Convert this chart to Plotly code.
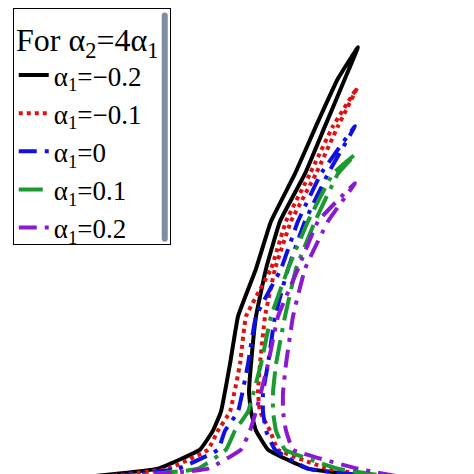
import plotly.graph_objects as go

# each curve runs along the left branch up to the peak, then back down the right branch
names = ["α<sub>1</sub>=−0.2", "α<sub>1</sub>=−0.1", "α<sub>1</sub>=0", "α<sub>1</sub>=0.1", "α<sub>1</sub>=0.2"]
colors = ["black", "#e01010", "#1010e0", "#1a9a30", "#8a1ad0"]
dashes = ["solid", "dot", "18px,8px,4px,8px", "24px,8px,24px,8px,4px,8px", "18px,8px,4px,8px"]

x_black = [65, 150, 192, 205, 213, 222, 230, 248, 263, 287, 308, 330, 350,
           337, 317, 297, 272, 258, 248, 243, 241, 243, 248, 260, 300, 380]
y_black = [470, 460, 440, 420, 400, 350, 300, 250, 200, 150, 100, 50, 17,
           50, 100, 150, 200, 250, 300, 350, 380, 400, 420, 440, 460, 470]

x_red = [65, 160, 200, 210, 222, 232, 238, 263, 278, 302, 325, 349,
         330, 308, 283, 267, 257, 252, 250, 252, 262, 270, 320, 400]
y_red = [472, 460, 440, 420, 400, 350, 300, 250, 200, 150, 100, 60,
         100, 150, 200, 250, 300, 350, 380, 400, 420, 440, 460, 472]

x_blue = [70, 170, 210, 217, 230, 240, 248, 273, 290, 313, 347,
          320, 297, 280, 267, 260, 255, 255, 258, 267, 300, 415]
y_blue = [472, 460, 440, 420, 400, 350, 300, 250, 200, 150, 100,
          150, 200, 250, 300, 350, 380, 400, 420, 440, 460, 473]

x_green = [70, 190, 218, 227, 240, 253, 263, 280, 300, 325, 347,
           330, 307, 288, 277, 268, 265, 265, 268, 277, 330, 415]
y_green = [472, 460, 440, 420, 400, 350, 300, 250, 200, 150, 130,
           150, 200, 250, 300, 350, 380, 400, 420, 440, 460, 473]

x_purple = [70, 200, 233, 242, 248, 260, 270, 290, 310, 347,
            320, 297, 285, 278, 275, 275, 278, 285, 350, 415]
y_purple = [472, 460, 440, 420, 400, 350, 300, 250, 200, 160,
            200, 250, 300, 350, 380, 400, 420, 440, 460, 473]

xs = [x_black, x_red, x_blue, x_green, x_purple]
ys = [y_black, y_red, y_blue, y_green, y_purple]

fig = go.Figure()
for name, c, d, x, y in zip(names, colors, dashes, xs, ys):
    fig.add_trace(go.Scatter(
        x=x, y=[474 - v for v in y], mode="lines", name=name,
        line=dict(color=c, width=4, dash=d, shape="spline", smoothing=0.3),
    ))

fig.update_layout(
    width=474, height=474,
    margin=dict(l=0, r=0, t=0, b=0),
    plot_bgcolor="white", paper_bgcolor="white",
    showlegend=True,
    legend=dict(
        x=0.01, y=1.05, xanchor="left", yanchor="top",
        title=dict(text="For α<sub>2</sub>=4α<sub>1</sub>", side="top center"),
        font=dict(family="Liberation Serif", size=27, color="black"),
        bordercolor="black", borderwidth=1, bgcolor="white",
        tracegroupgap=0,
    ),
)
fig.update_xaxes(range=[0, 474], visible=False)
fig.update_yaxes(range=[0, 474], visible=False)

fig.write_html("out.html")
